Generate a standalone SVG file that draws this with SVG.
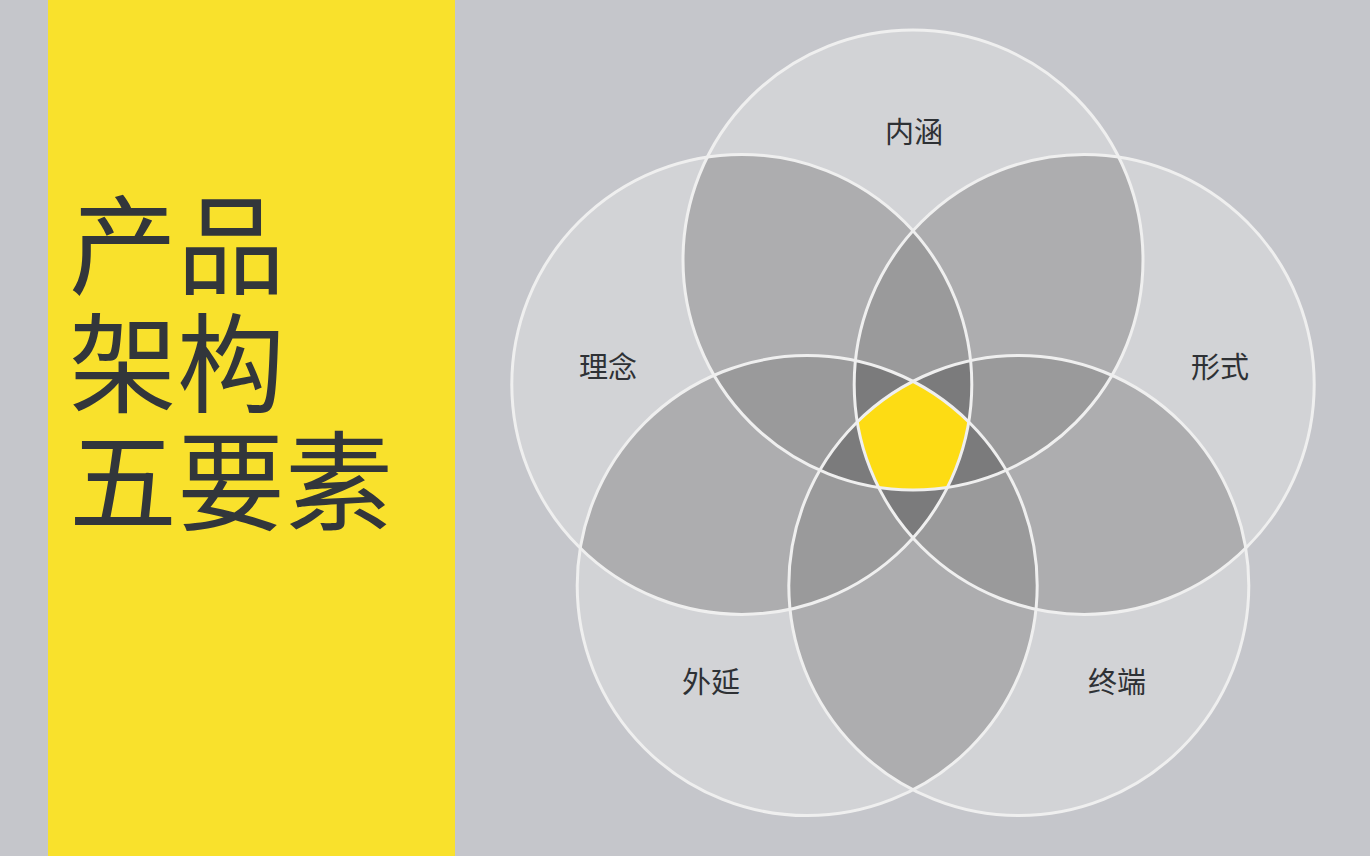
<svg xmlns="http://www.w3.org/2000/svg" xmlns:xlink="http://www.w3.org/1999/xlink" width="1370" height="856" viewBox="0 0 1370 856">
<style>
.r1{fill:#d2d3d6}
.r2{fill:#adadaf}
.r3{fill:#9a9a9b}
.r4{fill:#7b7b7c}
.r5{fill:#fddc14}
.ring{fill:none;stroke:#efefef;stroke-width:3}
.lbl{font-family:"Noto Sans CJK SC","Noto Sans",sans-serif;font-size:29px;fill:#2e3135;text-anchor:middle}
.title{font-family:"Noto Sans CJK SC","Noto Sans",sans-serif;font-size:108px;fill:#32363b}
</style>
<defs>
<circle id="cA" cx="913" cy="260" r="230"/>
<circle id="cB" cx="741.8" cy="384.4" r="230"/>
<circle id="cC" cx="1084.2" cy="384.4" r="230"/>
<circle id="cD" cx="807.2" cy="585.6" r="230"/>
<circle id="cE" cx="1018.8" cy="585.6" r="230"/>
<clipPath id="kA"><circle cx="913" cy="260" r="230"/></clipPath>
<clipPath id="kB"><circle cx="741.8" cy="384.4" r="230"/></clipPath>
<clipPath id="kC"><circle cx="1084.2" cy="384.4" r="230"/></clipPath>
<clipPath id="kD"><circle cx="807.2" cy="585.6" r="230"/></clipPath>
<clipPath id="kE"><circle cx="1018.8" cy="585.6" r="230"/></clipPath>
</defs>
<rect x="0" y="0" width="1370" height="856" fill="#c5c6cb"/>
<rect x="48" y="0" width="407" height="856" fill="#f9e12c"/>
<g id="title">
<text class="title" x="69" y="286">产品</text>
<text class="title" x="69" y="404">架构</text>
<text class="title" x="69" y="522">五要素</text>
</g>
<g id="regions">
<g class="r1">
<use href="#cA"/><use href="#cB"/><use href="#cC"/><use href="#cD"/><use href="#cE"/>
</g>
<g class="r2">
<use href="#cB" clip-path="url(#kA)"/>
<use href="#cC" clip-path="url(#kA)"/>
<use href="#cD" clip-path="url(#kA)"/>
<use href="#cE" clip-path="url(#kA)"/>
<use href="#cC" clip-path="url(#kB)"/>
<use href="#cD" clip-path="url(#kB)"/>
<use href="#cE" clip-path="url(#kB)"/>
<use href="#cD" clip-path="url(#kC)"/>
<use href="#cE" clip-path="url(#kC)"/>
<use href="#cE" clip-path="url(#kD)"/>
</g>
<g class="r3">
<g clip-path="url(#kA)"><use href="#cC" clip-path="url(#kB)"/></g>
<g clip-path="url(#kA)"><use href="#cD" clip-path="url(#kB)"/></g>
<g clip-path="url(#kA)"><use href="#cE" clip-path="url(#kB)"/></g>
<g clip-path="url(#kA)"><use href="#cD" clip-path="url(#kC)"/></g>
<g clip-path="url(#kA)"><use href="#cE" clip-path="url(#kC)"/></g>
<g clip-path="url(#kA)"><use href="#cE" clip-path="url(#kD)"/></g>
<g clip-path="url(#kB)"><use href="#cD" clip-path="url(#kC)"/></g>
<g clip-path="url(#kB)"><use href="#cE" clip-path="url(#kC)"/></g>
<g clip-path="url(#kB)"><use href="#cE" clip-path="url(#kD)"/></g>
<g clip-path="url(#kC)"><use href="#cE" clip-path="url(#kD)"/></g>
</g>
<g class="r4">
<g clip-path="url(#kA)"><g clip-path="url(#kB)"><use href="#cD" clip-path="url(#kC)"/></g></g>
<g clip-path="url(#kA)"><g clip-path="url(#kB)"><use href="#cE" clip-path="url(#kC)"/></g></g>
<g clip-path="url(#kA)"><g clip-path="url(#kB)"><use href="#cE" clip-path="url(#kD)"/></g></g>
<g clip-path="url(#kA)"><g clip-path="url(#kC)"><use href="#cE" clip-path="url(#kD)"/></g></g>
<g clip-path="url(#kB)"><g clip-path="url(#kC)"><use href="#cE" clip-path="url(#kD)"/></g></g>
</g>
<g class="r5">
<g clip-path="url(#kA)"><g clip-path="url(#kB)"><g clip-path="url(#kC)"><use href="#cE" clip-path="url(#kD)"/></g></g></g>
</g>
</g>
<g id="node-neihan"><use href="#cA" class="ring"/><text class="lbl" x="914" y="143">内涵</text></g>
<g id="node-linian"><use href="#cB" class="ring"/><text class="lbl" x="608" y="378">理念</text></g>
<g id="node-xingshi"><use href="#cC" class="ring"/><text class="lbl" x="1220" y="378">形式</text></g>
<g id="node-waiyan"><use href="#cD" class="ring"/><text class="lbl" x="711" y="693">外延</text></g>
<g id="node-zhongduan"><use href="#cE" class="ring"/><text class="lbl" x="1117" y="693">终端</text></g>
<g id="connectors"></g>
</svg>
